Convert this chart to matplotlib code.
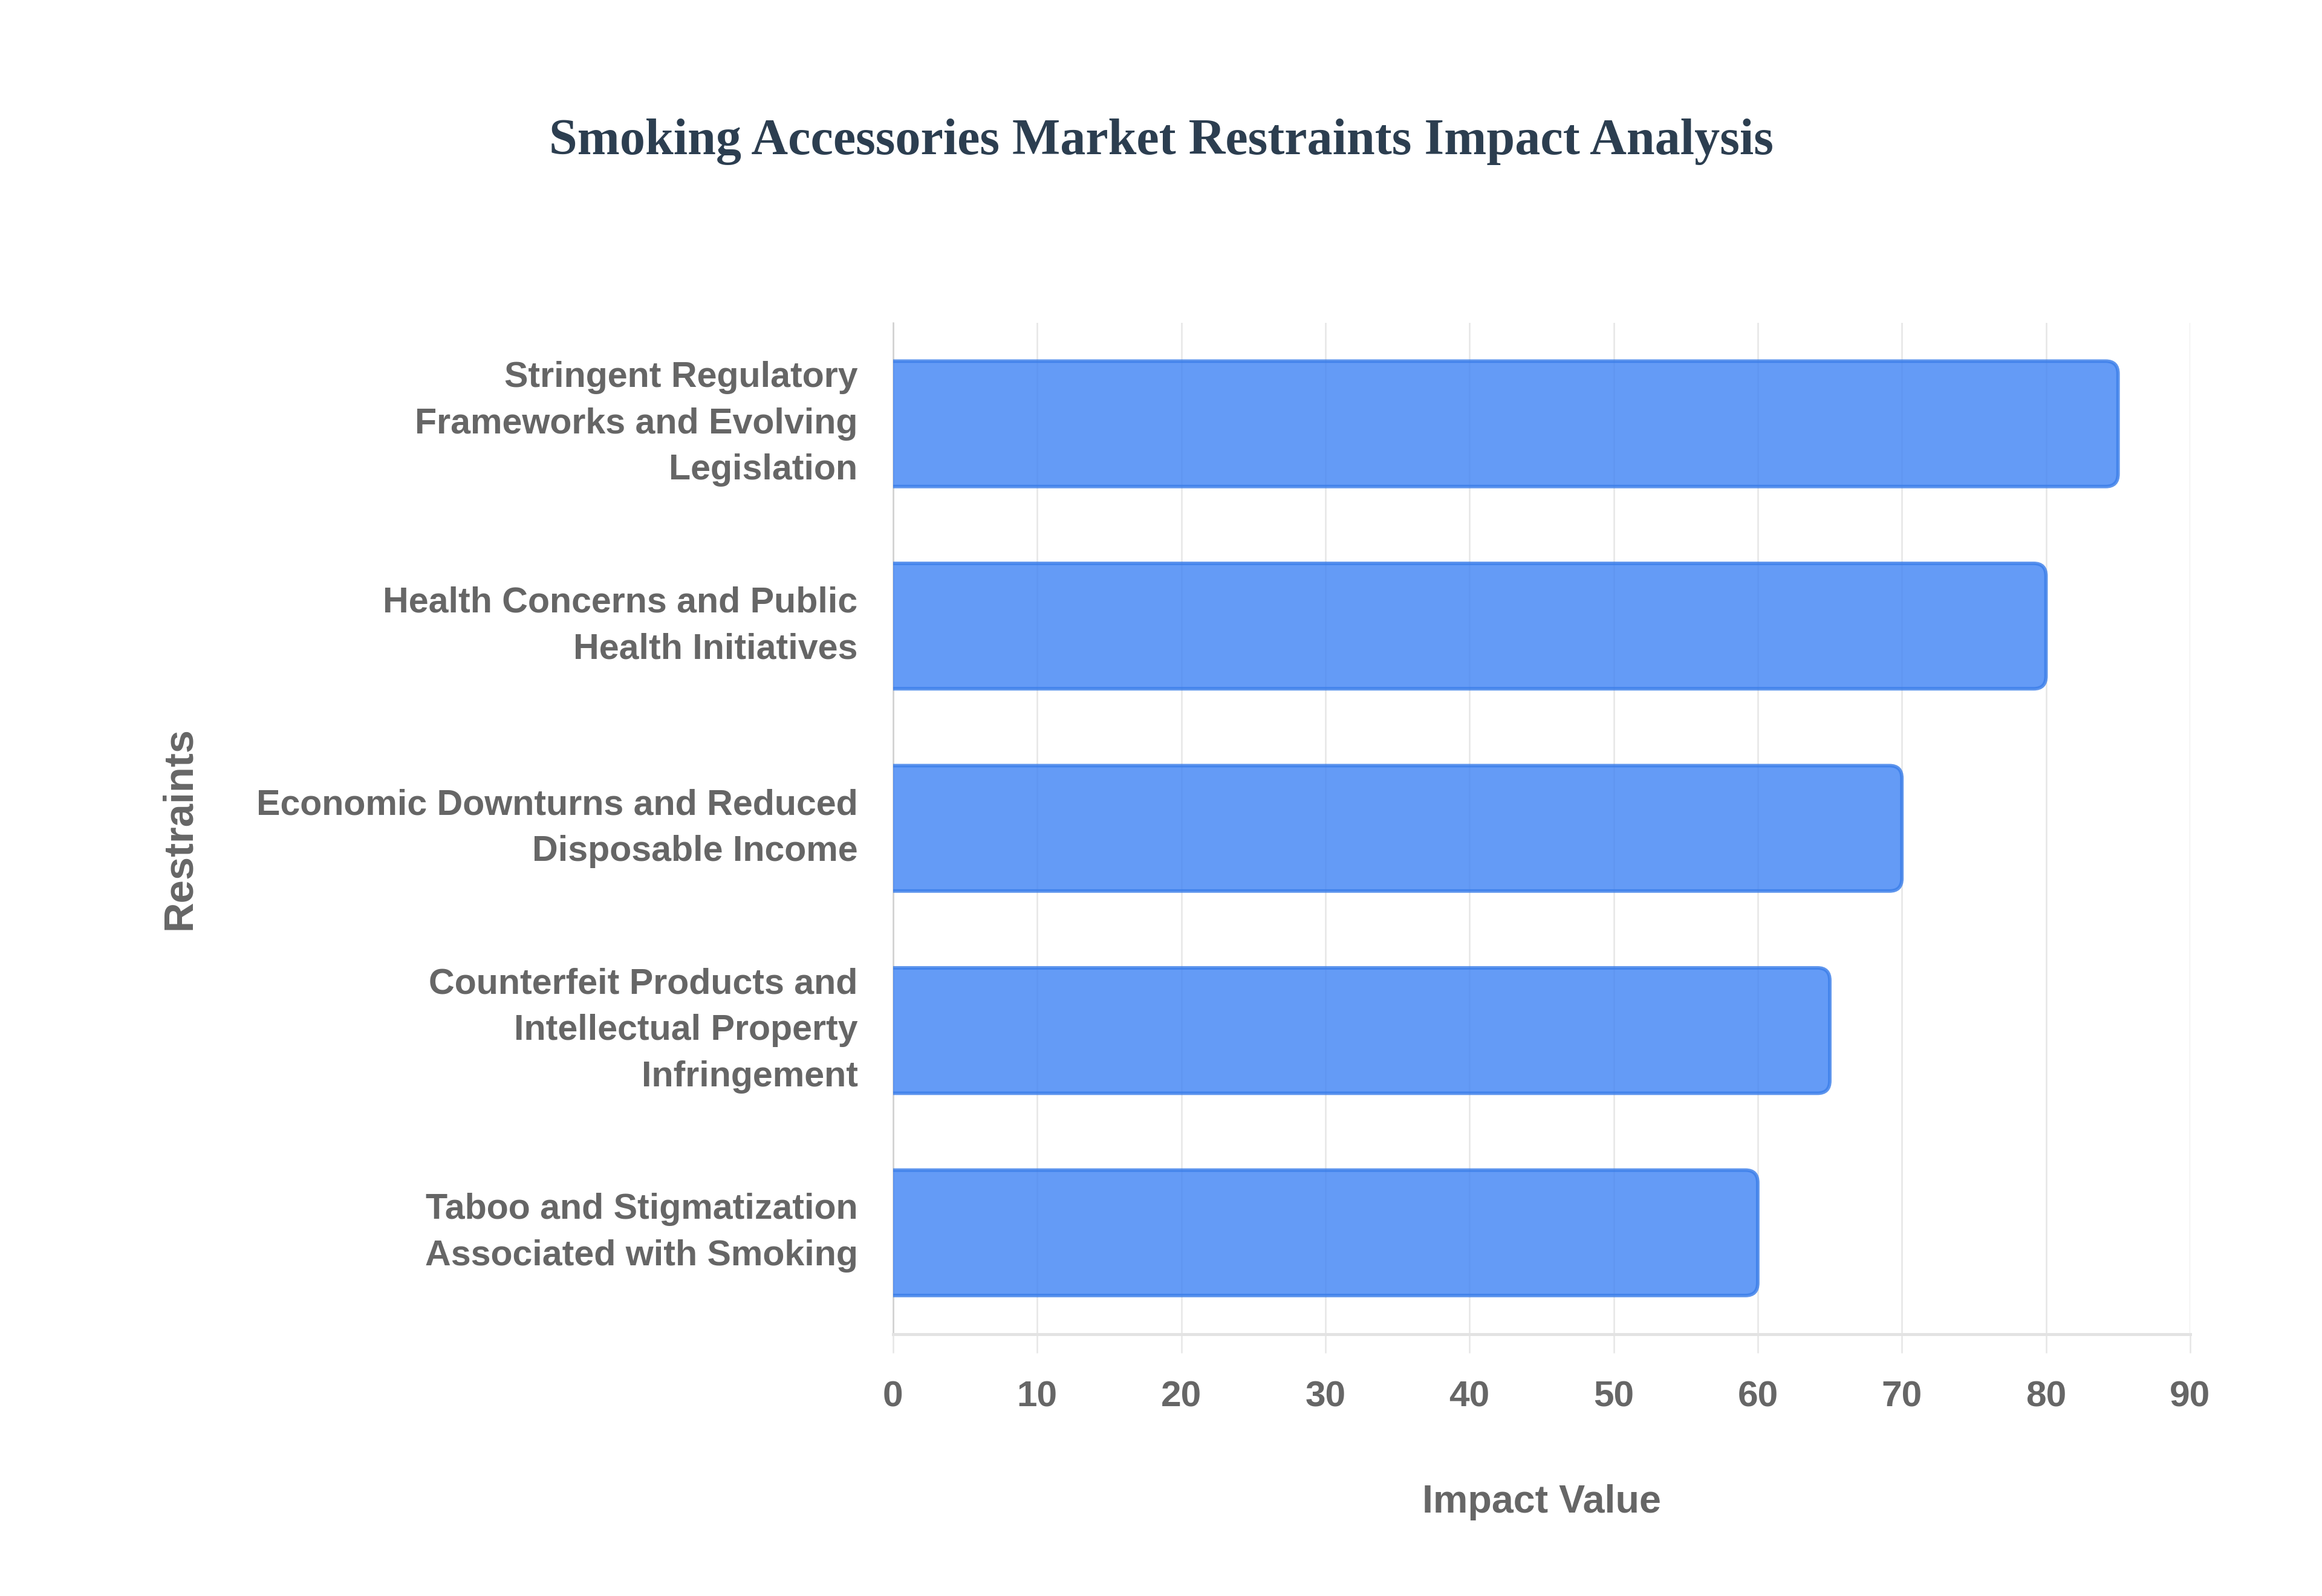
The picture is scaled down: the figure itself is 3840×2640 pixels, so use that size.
import numpy as np
import matplotlib.pyplot as plt
from matplotlib.patches import FancyBboxPatch

# data
restraints = [
    "Stringent Regulatory\nFrameworks and Evolving\nLegislation",
    "Health Concerns and Public\nHealth Initiatives",
    "Economic Downturns and Reduced\nDisposable Income",
    "Counterfeit Products and\nIntellectual Property\nInfringement",
    "Taboo and Stigmatization\nAssociated with Smoking",
]
impact = [85, 80, 70, 65, 60]
x_ticks = [0, 10, 20, 30, 40, 50, 60, 70, 80, 90]

grey = "#666666"
plt.rcParams['font.family'] = ['Liberation Sans', 'DejaVu Sans']

fig = plt.figure(figsize=(12.8, 8.8), dpi=300)
ax = fig.add_axes([0.3846, 0.1642, 0.5586, 0.6336])

ax.set_xlim(0, 90)
ax.set_ylim(4.5, -0.5)

bar_h = 0.62
# corner radius in x units, aspect fixes the y size
rad = 0.85
aspect = 0.062 / rad
for i, v in enumerate(impact):
    box = FancyBboxPatch((-2, i - bar_h / 2), v + 2, bar_h,
                         boxstyle="round,pad=0,rounding_size=%f" % rad,
                         mutation_aspect=aspect,
                         facecolor="#4285f4", alpha=0.82,
                         edgecolor="#3b7ee9", linewidth=1.4, zorder=3)
    ax.add_patch(box)

ax.set_yticks(range(len(restraints)))
ax.set_yticklabels(restraints, fontsize=14.2, fontweight='bold', color=grey,
                   linespacing=1.5)
for lab in ax.get_yticklabels():
    lab.set_verticalalignment('center')
ax.set_xticks(x_ticks)
ax.set_xticklabels([str(t) for t in x_ticks], fontsize=14.5, fontweight='bold', color=grey)
ax.tick_params(axis='y', length=0, pad=14)
ax.tick_params(axis='x', length=7.5, width=0.6, color="#e6e6e6", pad=11)

ax.grid(axis='x', color="#e6e6e6", linewidth=0.6, zorder=0)
ax.set_axisbelow(True)
for s in ['top', 'right']:
    ax.spines[s].set_visible(False)
ax.spines['left'].set_color("#d0d0d0")
ax.spines['left'].set_linewidth(0.6)
ax.spines['bottom'].set_color("#e3e3e3")
ax.spines['bottom'].set_linewidth(1.2)

ax.set_xlabel("Impact Value", fontsize=15.5, fontweight='bold', color=grey, labelpad=28)
ax.set_ylabel("Restraints", fontsize=16.5, fontweight='bold', color=grey)
ax.yaxis.set_label_coords(-0.535, 0.5)

fig.text(0.5, 0.911, "Smoking Accessories Market Restraints Impact Analysis",
         ha='center', va='center', fontsize=20.2, fontweight='bold',
         color="#2c3e50", family=['Liberation Serif', 'DejaVu Serif'])

fig.savefig("out.png", dpi=300, facecolor='white')
